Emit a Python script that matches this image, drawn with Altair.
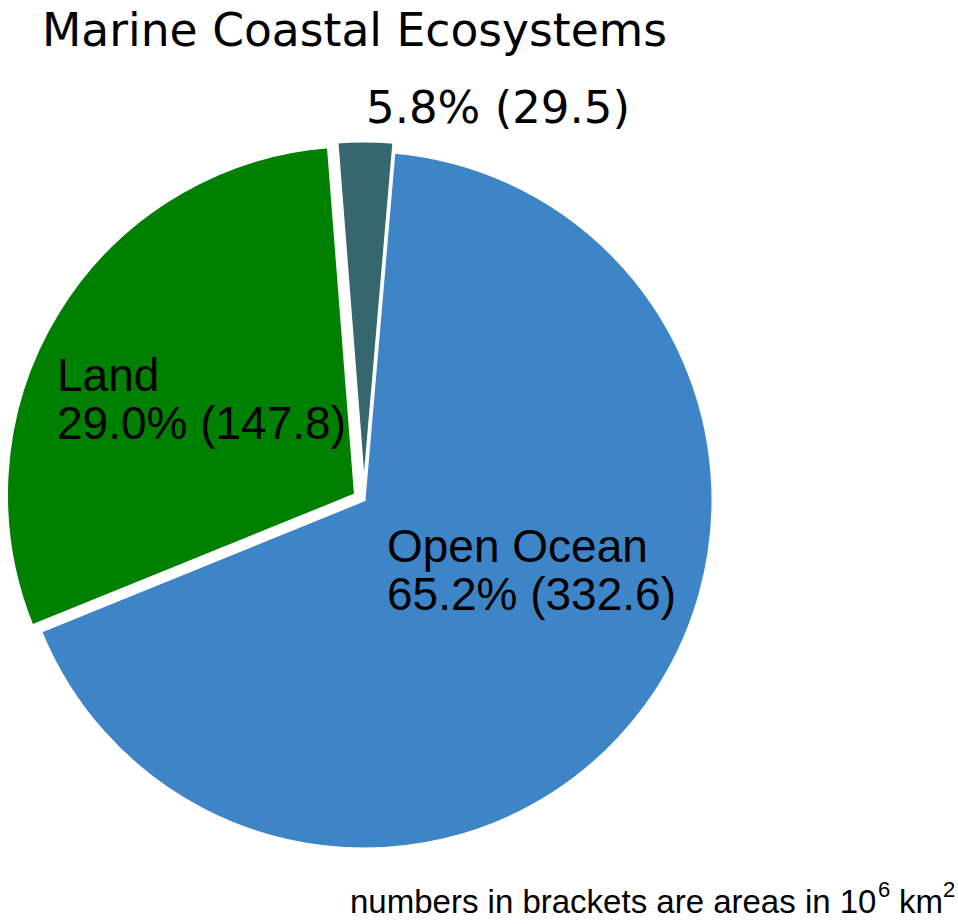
import math
import altair as alt
import pandas as pd

# ---- data ----
names = ["Marine Coastal", "Open Ocean", "Land"]
label_pct = [5.8, 65.2, 29.0]          # percentages printed in the labels
label_area = [29.5, 332.6, 147.8]      # areas in 10^6 km^2 printed in the labels
drawn_share = [2.6, 67.5, 29.9]        # slice sizes as drawn (percent of circle)
colors = ["#36676f", "#3d85c6", "#008000"]

TITLE = "Marine Coastal Ecosystems"
NOTE_PARTS = ["numbers in brackets are areas in 10", "6", "km", "2"]

# ---- layout / style ----
W, H = 958, 924
CX, CY = 364, 500
R = 349
EXPLODE = 10
START = math.radians(-4.45)

df = pd.DataFrame({
    "name": names,
    "pct": label_pct,
    "area": label_area,
    "share": drawn_share,
    "order": list(range(len(names))),
})

arcs = (
    alt.Chart(df)
    .transform_joinaggregate(total="sum(share)")
    .transform_window(cum="sum(share)", sort=[alt.SortField("order")], frame=[None, 0])
    .transform_calculate(
        a1=f"{START} + 2*PI*datum.cum/datum.total",
        a0=f"{START} + 2*PI*(datum.cum - datum.share)/datum.total",
    )
    .transform_calculate(
        mid="(datum.a0 + datum.a1)/2",
        ex=f"datum.name == 'Open Ocean' ? 0 : {EXPLODE}",
    )
    .transform_calculate(
        cx=f"{CX} + datum.ex*sin(datum.mid)",
        cy=f"{CY} - datum.ex*cos(datum.mid)",
    )
    .mark_arc(outerRadius=R, stroke="white", strokeWidth=3)
    .encode(
        x=alt.X("cx:Q", scale=None, axis=None),
        y=alt.Y("cy:Q", scale=None, axis=None),
        theta=alt.Theta("a0:Q", scale=None),
        theta2="a1:Q",
        color=alt.Color("name:N", scale=alt.Scale(domain=names, range=colors), legend=None),
    )
)

# label positions (first-line baselines)
label_pos = {"Land": (57, 391), "Open Ocean": (387, 562)}
lab_df = df[df["name"].isin(label_pos.keys())].copy()
lab_df["lx"] = [label_pos[n][0] for n in lab_df["name"]]
lab_df["ly"] = [label_pos[n][1] for n in lab_df["name"]]

big_labels = (
    alt.Chart(lab_df)
    .transform_calculate(
        txt="datum.name + '\\n' + format(datum.pct, '.1f') + '% (' + format(datum.area, '.1f') + ')'"
    )
    .mark_text(align="left", baseline="alphabetic", font="Liberation Sans",
               fontSize=46, lineBreak="\n", lineHeight=48, color="black")
    .encode(
        x=alt.X("lx:Q", scale=None, axis=None),
        y=alt.Y("ly:Q", scale=None, axis=None),
        text="txt:N",
    )
)

coastal_df = df[df["name"] == "Marine Coastal"].copy()
coastal_label = (
    alt.Chart(coastal_df)
    .transform_calculate(
        txt="format(datum.pct, '.1f') + '% (' + format(datum.area, '.1f') + ')'"
    )
    .mark_text(align="left", baseline="alphabetic", font="DejaVu Sans",
               fontSize=45, color="black")
    .encode(x=alt.value(366), y=alt.value(123), text="txt:N")
)

title = (
    alt.Chart(pd.DataFrame({"t": [TITLE]}))
    .mark_text(align="left", baseline="alphabetic", font="DejaVu Sans",
               fontSize=45.6, color="black")
    .encode(x=alt.value(42), y=alt.value(46), text="t:N")
)

# footnote pieces with superscripts
note_df = pd.DataFrame({
    "t": NOTE_PARTS,
    "nx": [350, 878, 899, 943],
    "ny": [913, 897, 913, 897],
    "fs": [33, 22, 33, 22],
})
note = (
    alt.Chart(note_df)
    .mark_text(align="left", baseline="alphabetic", font="Liberation Sans", color="black")
    .encode(
        x=alt.X("nx:Q", scale=None, axis=None),
        y=alt.Y("ny:Q", scale=None, axis=None),
        size=alt.Size("fs:Q", scale=None, legend=None),
        text="t:N",
    )
)

chart = (
    alt.layer(arcs, big_labels, coastal_label, title, note)
    .properties(width=W, height=H, padding=0, autosize="none", background="white")
    .configure_view(stroke=None)
)

chart.save("out.html", embed_options={"renderer": "svg", "actions": False})
